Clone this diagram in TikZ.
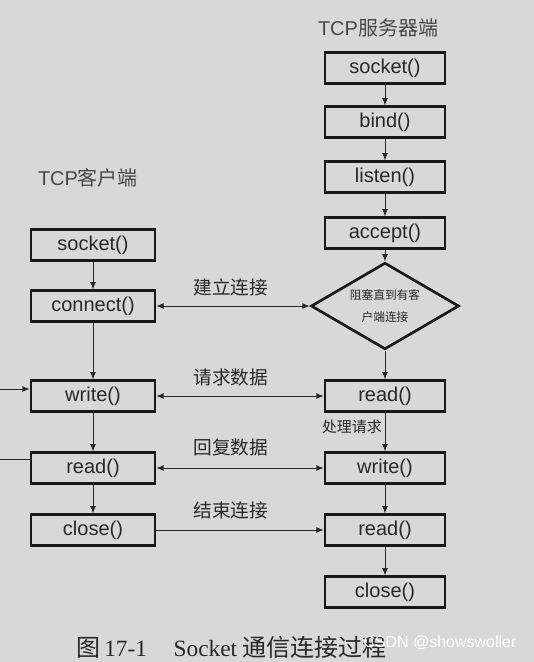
\documentclass[tikz,border=0pt]{standalone}
\usepackage{fontspec}
\setmainfont{Liberation Sans}
\newfontfamily\cjk{Noto Sans CJK SC}
\newfontfamily\serifcap{Liberation Serif}
\usetikzlibrary{arrows.meta,shapes.geometric,calc}
\definecolor{paper}{RGB}{214,217,213}
\definecolor{ink}{RGB}{40,40,40}
\begin{document}
\begin{tikzpicture}[x=0.75pt,y=-0.75pt,
  box/.style={draw=black!90,line width=2pt,minimum height=23pt,inner sep=0pt,text=ink,font=\fontsize{15}{18}\selectfont},
  lbox/.style={box,minimum width=93pt},
  rbox/.style={box,minimum width=90pt},
  tip/.tip={Latex[length=5.5pt,width=4.5pt]},
  conn/.style={draw=ink,line width=0.7pt,-tip},
  both/.style={draw=ink,line width=0.7pt,tip-tip},
  plain/.style={draw=ink,line width=0.7pt},
  lab/.style={text=ink,font=\cjk\fontsize{14}{17}\selectfont},
  head/.style={text=ink!85,font=\fontsize{15}{18}\selectfont}]
\fill[paper] (0,0) rectangle (534,662);
\useasboundingbox (0,0) rectangle (534,662);
% client
\node[head] (ch) at (88,178) {TCP{\cjk 客户端}};
\node[lbox] (cs) at (93,245) {socket()};
\node[lbox] (cc) at (93,306) {connect()};
\node[lbox] (cw) at (93,396) {write()};
\node[lbox] (cr) at (93,468) {read()};
\node[lbox] (cx) at (93,530) {close()};
% server
\node[head] (sh) at (378,28) {TCP{\cjk 服务器端}};
\node[rbox] (ss) at (385,68) {socket()};
\node[rbox] (sb) at (385,122) {bind()};
\node[rbox] (sl) at (385,177) {listen()};
\node[rbox] (sa) at (385,233) {accept()};
\node[diamond,aspect=1.7,draw=black!90,line width=2pt,minimum width=111pt,minimum height=65pt,inner sep=0pt,
      align=center,text=ink,font=\cjk\fontsize{8.8}{17}\selectfont] (sd) at (385,306) {阻塞直到有客\\户端连接};
\node[rbox] (sr) at (385,396) {read()};
\node[rbox] (sw) at (385,468) {write()};
\node[rbox] (sr2) at (385,530) {read()};
\node[rbox] (sx) at (385,592) {close()};
% vertical flow
\draw[conn] (cs) -- (cc);
\draw[conn] (cc) -- (cw);
\draw[conn] (cw) -- (cr);
\draw[conn] (cr) -- (cx);
\draw[conn] (ss) -- (sb);
\draw[conn] (sb) -- (sl);
\draw[conn] (sl) -- (sa);
\draw[conn] (sa) -- (sd);
\draw[conn] (sd) -- (sr);
\draw[conn] (sr) -- (sw);
\draw[conn] (sw) -- (sr2);
\draw[conn] (sr2) -- (sx);
% horizontal exchanges
\draw[both] (cc) -- (sd);
\draw[both] (cw) -- (sr);
\draw[both] (cr) -- (sw);
\draw[conn] (cx) -- (sr2);
\node[lab] (l1) at (231,287) {建立连接};
\node[lab] (l2) at (231,377) {请求数据};
\node[lab] (l3) at (231,447) {回复数据};
\node[lab] (l4) at (231,510) {结束连接};
\node[anchor=east,inner sep=0pt,text=ink,font=\cjk\fontsize{11.2}{13}\selectfont] (l5) at (382,427) {处理请求};
% loop at the left edge
\coordinate (lw) at (0,389);
\coordinate (lr) at (0,459);
\draw[conn] (lw) -- (lw -| cw.west);
\draw[plain] (lr -| cr.west) -- (lr);
% caption
\node[anchor=west,inner sep=0pt,text=ink,font=\fontsize{17.5}{20}\selectfont] (cap) at (76,647)
  {{\cjk\fontsize{18}{20}\selectfont 图}\hspace{3pt}{\serifcap 17-1}\hspace{20pt}{\serifcap Socket}\hspace{4pt}{\cjk\fontsize{18}{20}\selectfont 通信连接过程}};
\node[anchor=west,inner sep=0pt,text=white,font=\fontsize{12}{14}\selectfont] (wm) at (363,643) {CSDN @showswoller};
\end{tikzpicture}
\end{document}
